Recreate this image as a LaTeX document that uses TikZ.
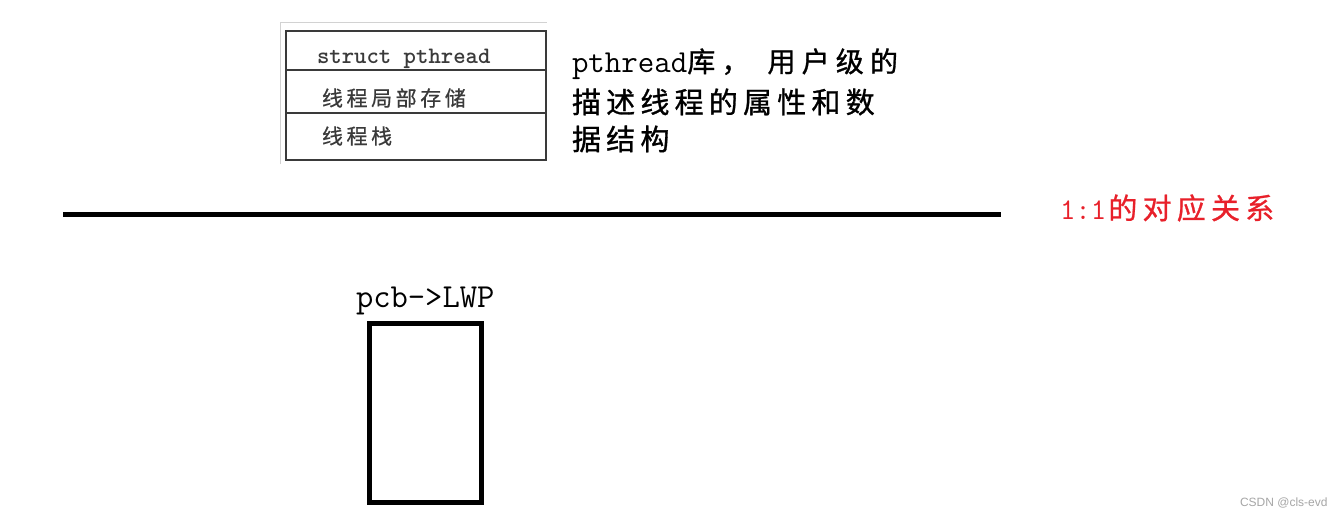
\documentclass[tikz,border=0pt]{standalone}
\usepackage{fontspec}
\newfontfamily\cjka[LetterSpace=22,FakeBold=1]{Noto Sans CJK SC}
\newfontfamily\cjkb[LetterSpace=18,FakeBold=1]{Noto Sans CJK SC}
\newfontfamily\cjkr[LetterSpace=18,FakeBold=0.8]{Noto Sans CJK SC}
\newfontfamily\cjkt[LetterSpace=17,FakeBold=0.6]{Noto Sans CJK SC}
\newfontfamily\wm{Liberation Sans}
\definecolor{myred}{HTML}{E8202A}
\definecolor{tblgray}{HTML}{3A3A3A}
\tikzset{
  txt/.style={inner sep=0pt, outer sep=0pt, anchor=base west},
  tbltxt/.style={txt, text=tblgray},
}
\begin{document}
\begin{tikzpicture}[x=1pt,y=-1pt]
\useasboundingbox[fill=white] (0,0) rectangle (1343,517);
% scanned table image
\draw[gray!35, line width=1pt] (280,164) -- (280,22) -- (547,22);
\node[draw=tblgray, line width=1.6pt, minimum width=260pt, minimum height=129pt, inner sep=0pt, anchor=north west] (tbl) at (285,30) {};
\draw[tblgray, line width=1.3pt] (285,70) -- (545,70);
\draw[tblgray, line width=1.3pt] (285,113) -- (545,113);
\node[tbltxt] (t1) at (317,63) {\fontsize{23.6}{28}\selectfont\ttfamily\bfseries struct pthread};
\node[tbltxt] (t2) at (322,106) {\fontsize{21}{25}\selectfont\cjkt 线程局部存储};
\node[tbltxt] (t3) at (322,144) {\fontsize{21}{25}\selectfont\cjkt 线程栈};
% description
\node[txt] (d1) at (572,72) {{\fontsize{32}{36}\selectfont\ttfamily pthread}{\fontsize{28}{34}\selectfont\cjka 库，\hspace{18pt}用户级的}};
\node[txt] (d2) at (572,113) {\fontsize{29}{36}\selectfont\cjkb 描述线程的属性和数};
\node[txt] (d3) at (572,150) {\fontsize{29}{36}\selectfont\cjkb 据结构};
% separator
\draw[line width=5pt] (63,214) -- (1001,214);
\node[txt, text=myred] (rel) at (1060,219) {{\fontsize{30}{34}\selectfont\ttfamily 1:1}\hspace{2pt}{\fontsize{29}{34}\selectfont\cjkr 的对应关系}};
% LWP
\node[txt] (lwpl) at (356,307) {\fontsize{33.6}{40}\selectfont\ttfamily pcb->LWP};
\node[draw, line width=5pt, minimum width=112pt, minimum height=179pt, inner sep=0pt] (lwp) at (425.5,413) {};
% watermark
\node[txt, text=gray!70] (wm) at (1240,506) {\fontsize{12}{14}\selectfont\wm CSDN @cls-evd};
\end{tikzpicture}
\end{document}
